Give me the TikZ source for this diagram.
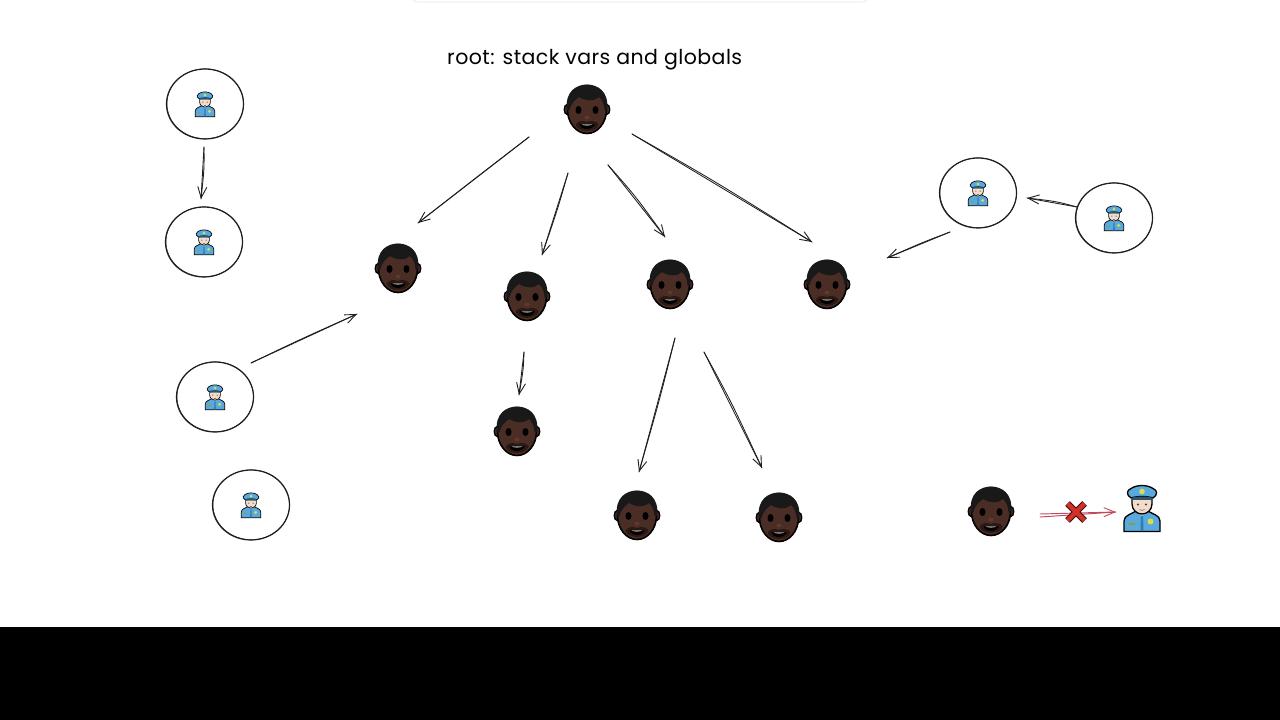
\documentclass[tikz,border=0pt]{standalone}
\usepackage{fontspec}
\setmainfont{Poppins}[LetterSpace=2.2]
\usetikzlibrary{arrows.meta,shapes.geometric,calc}
\definecolor{skinD}{HTML}{4A2D24}
\definecolor{beardD}{HTML}{2B1812}
\definecolor{noseD}{HTML}{63382C}
\definecolor{skinL}{HTML}{F2DCCB}
\definecolor{copblue}{HTML}{5AA9DC}
\definecolor{copdark}{HTML}{2F7DB5}
\definecolor{copgold}{HTML}{D8DC50}
\definecolor{ink}{HTML}{1E1E1E}
\definecolor{redink}{HTML}{BE4A5C}
\definecolor{xred}{HTML}{D1302B}
\tikzset{
  x=1pt,y=-1pt,
  facebox/.style={inner sep=0,minimum width=46,minimum height=50},
  ring/.style={ellipse,draw=ink,line width=1.2pt,inner sep=0,minimum width=77,minimum height=70},
  copline/.style={line width=1.3pt},
  stroke/.style={draw=ink,line width=.85pt,line cap=round,line join=round},
  redstroke/.style={draw=redink,line width=.95pt,line cap=round,line join=round},
  barb/.style={-{Straight Barb[length=11pt,width=9pt,line width=.9pt]}},
  man/.pic={
    \path[fill=skinD,draw=black,line width=1.3pt] (-19.8,0.5) circle[x radius=3,y radius=5];
    \path[fill=skinD,draw=black,line width=1.3pt] (19.8,0.5) circle[x radius=3,y radius=5];
    \path[fill=skinD,draw=black,line width=1.6pt] (0,0.5) circle[x radius=19.5,y radius=24];
    \fill[black!90] (-20,1) .. controls (-22.5,-18) and (-10,-24.5) .. (0,-24.5)
      .. controls (10,-24.5) and (22.5,-18) .. (20,1) -- (17.5,1)
      .. controls (17,-6) and (15,-9) .. (12,-12)
      .. controls (7,-7) and (-2,-8) .. (-8,-12)
      .. controls (-12,-9) and (-16,-6) .. (-17.5,1) -- cycle;
    \fill[black] (-8.5,1) circle[x radius=3,y radius=4];
    \fill[black] (8.5,1) circle[x radius=3,y radius=4];
    \fill[noseD] (0,8.5) circle[x radius=2.6,y radius=1.8];
    \fill[beardD] (-11.5,15.5) .. controls (-9,11.5) and (-4,11.5) .. (0,13)
      .. controls (4,11.5) and (9,11.5) .. (11.5,15.5)
      .. controls (9,24) and (-9,24) .. (-11.5,15.5) -- cycle;
    \fill[black] (-7.5,15) -- (7.5,15) .. controls (6.5,21.5) and (-6.5,21.5) .. (-7.5,15) -- cycle;
    \fill[white!70!black] (-5.5,15.4) -- (5.5,15.4) .. controls (3.5,17) and (-3.5,17) .. (-5.5,15.4) -- cycle;
  },
  cop/.pic={
    \path[fill=copblue,draw=black,copline] (-18,23.5) -- (-18,13)
      .. controls (-18,7) and (-10,6) .. (-6,3) -- (6,3)
      .. controls (10,6) and (18,7) .. (18,13) -- (18,23.5) -- cycle;
    \fill[copdark] (-1.1,8) -- (1.1,8) -- (1.5,23) -- (-1.5,23) -- cycle;
    \fill[skinL] (-4.5,3) -- (4.5,3) -- (0,8) -- cycle;
    \fill[copgold] (8.5,13.5) circle[radius=3];
    \fill[copgold!70!black] (-13,15) rectangle (-7,16.5);
    \path[fill=skinL,draw=black,copline] (-10,-9) -- (-10,-4) .. controls (-10,2) and (-5,6) .. (0,6)
      .. controls (5,6) and (10,2) .. (10,-4) -- (10,-9) -- cycle;
    \fill[black!75] (-4,-3.5) circle[radius=1.1];
    \fill[black!75] (4,-3.5) circle[radius=1.1];
    \draw[line width=.6pt,black!55] (-2.5,1.5) .. controls (-1,2.8) and (1,2.8) .. (2.5,1.5);
    \path[fill=copblue,draw=black,copline] (-11,-10) .. controls (-16,-13) and (-15.5,-18) .. (-11,-19.5)
      .. controls (-5,-23.5) and (5,-23.5) .. (11,-19.5)
      .. controls (15.5,-18) and (16,-13) .. (11,-10)
      .. controls (5,-12) and (-5,-12) .. (-11,-10) -- cycle;
    \path[fill=copdark!70!black] (-11,-10) .. controls (-5,-12) and (5,-12) .. (11,-10)
      -- (10.5,-8) .. controls (5,-9.5) and (-5,-9.5) .. (-10.5,-8) -- cycle;
    \fill[copgold] (0,-16.5) circle[radius=2.8];
  },
}
\newcommand{\conn}[4]{%
  \draw[stroke] ([shift={(#2)}]#1.center) -- ([shift={(#4)}]#3.center);
  \draw[stroke,barb] ([shift={(#2)}]#1.center) .. controls ($([shift={(#2)}]#1.center)!.45!([shift={(#4)}]#3.center)+(1.6,-1.6)$) .. ([shift={(#4)}]#3.center);
}
\newcommand{\redconn}[4]{%
  \draw[redstroke] ([shift={(#2)}]#1.center) -- ([shift={(#4)}]#3.center);
  \draw[redstroke,barb] ([shift={(#2)}]#1.center)++(0,-3) .. controls ($([shift={(#2)}]#1.center)!.5!([shift={(#4)}]#3.center)+(0,-2)$) .. ([shift={(#4)}]#3.center);
}
\begin{document}
\begin{tikzpicture}
\useasboundingbox (0,0) rectangle (1280,720);
\fill[white] (0,0) rectangle (1280,720);
\fill[black] (0,627) rectangle (1280,720);
\path[fill=white,draw=black!7,line width=1pt,rounded corners=6] (412,-12) rectangle (868,2);

\node[anchor=base west,inner sep=0,font=\fontsize{20.5}{24}\selectfont] (title) at (447,64) {root: stack vars and globals};

% men
\foreach \n/\p in {root/{587,109},m1/{398,268},m2/{527,296},m3/{670,284},m4/{827,284},m5/{517,431},m6/{637,515},m7/{779,517},m8/{991,511}}{
  \node[facebox] (\n) at (\p) {};
  \pic at (\n) {man};
}
% officers in circles
\foreach \n/\p in {c1/{205,104},c2/{204,242},c3/{215,397},c4/{251,505},c5/{978,193},c6/{1114,218}}{
  \node[ring] (\n) at (\p) {};
  \draw[ink,line width=.5pt] ([shift={(.3,-.3)}]\n.center) circle[x radius=38.3,y radius=34.9];
  \pic[scale=.54,copline/.style={line width=.65pt}] at (\n) {cop};
}
% single officer
\node[facebox] (officer) at (1142,508) {};
\pic at (officer) {cop};

% connectors
\conn{root}{-58,28}{m1}{20,-45}
\conn{root}{-19,64}{m2}{15,-41}
\conn{root}{21,56}{m3}{-5,-47}
\conn{root}{45,25}{m4}{-15,-42}
\conn{c1}{-1,43}{c2}{-3,-43}
\conn{c3}{36,-34}{m1}{-41,46}
\conn{m2}{-3,56}{m5}{2,-36}
\conn{m3}{5,54}{m6}{2,-43}
\conn{m3}{34,68}{m7}{-17,-49}
\conn{c5}{-28,39}{m4}{60,-26}
\conn{c6}{-37,-11}{c5}{49,5}
\redconn{m8}{49,6}{officer}{-26,4}

% red cross
\node[inner sep=0,minimum size=20] (cross) at (1076,512) {};
\draw[black!70!xred,line width=6.5pt] ([shift={(-8.5,-8.5)}]cross.center) -- ([shift={(8.5,8.5)}]cross.center) ([shift={(-8.5,8.5)}]cross.center) -- ([shift={(8.5,-8.5)}]cross.center);
\draw[xred,line width=4.4pt] ([shift={(-8.5,-8.5)}]cross.center) -- ([shift={(8.5,8.5)}]cross.center) ([shift={(-8.5,8.5)}]cross.center) -- ([shift={(8.5,-8.5)}]cross.center);
\end{tikzpicture}
\end{document}
